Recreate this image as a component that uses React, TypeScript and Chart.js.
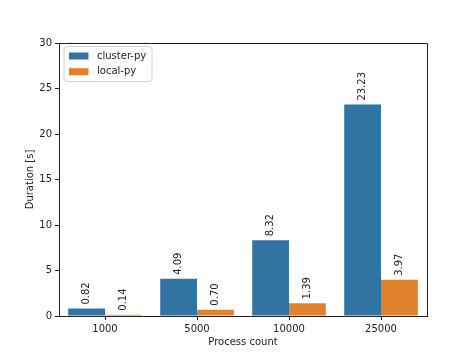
import React, { useEffect, useRef } from "react";
import { Chart, registerables } from "chart.js";

Chart.register(...registerables);

const categories = ["1000", "5000", "10000", "25000"];
const clusterPy = [0.82, 4.09, 8.32, 23.23];
const localPy = [0.14, 0.7, 1.39, 3.97];
const seriesNames = ["cluster-py", "local-py"];
const seriesColors = ["#3274a1", "#e1812c"];
const yTicks = [0, 5, 10, 15, 20, 25, 30];
const xTitle = "Process count";
const yTitle = "Duration [s]";

const FONT = "DejaVu Sans";

const extras = {
  id: "extras",
  afterDatasetsDraw(chart: any) {
    const ctx = chart.ctx;
    const ca = chart.chartArea;
    // value labels
    ctx.save();
    ctx.font = `10px "${FONT}"`;
    ctx.fillStyle = "#222";
    chart.data.datasets.forEach((ds: any, di: number) => {
      const meta = chart.getDatasetMeta(di);
      meta.data.forEach((el: any, i: number) => {
        const v = ds.data[i];
        ctx.save();
        ctx.translate(el.x, el.y - 4);
        ctx.rotate(-Math.PI / 2);
        ctx.textAlign = "left";
        ctx.textBaseline = "middle";
        ctx.fillText(Number(v).toFixed(2), 0, 0);
        ctx.restore();
      });
    });
    ctx.restore();
    // top/right spines
    ctx.save();
    ctx.strokeStyle = "#222";
    ctx.lineWidth = 1;
    ctx.beginPath();
    ctx.moveTo(ca.left, ca.top + 0.5);
    ctx.lineTo(ca.right + 0.5, ca.top + 0.5);
    ctx.lineTo(ca.right + 0.5, ca.bottom);
    ctx.stroke();
    ctx.restore();
    // axis titles
    ctx.save();
    ctx.font = `10px "${FONT}"`;
    ctx.fillStyle = "#222";
    ctx.textAlign = "center";
    ctx.textBaseline = "middle";
    ctx.fillText(xTitle, (ca.left + ca.right) / 2, ca.bottom + 26);
    ctx.translate(ca.left - 29, (ca.top + ca.bottom) / 2);
    ctx.rotate(-Math.PI / 2);
    ctx.fillText(yTitle, 0, 0);
    ctx.restore();
    // legend
    ctx.save();
    const lx = ca.left + 5, ly = ca.top + 3.5, lw = 88, lh = 35, r = 3;
    ctx.fillStyle = "rgba(255,255,255,0.8)";
    ctx.strokeStyle = "#d0d0d0";
    ctx.lineWidth = 1;
    ctx.beginPath();
    ctx.moveTo(lx + r, ly);
    ctx.lineTo(lx + lw - r, ly);
    ctx.arcTo(lx + lw, ly, lx + lw, ly + r, r);
    ctx.lineTo(lx + lw, ly + lh - r);
    ctx.arcTo(lx + lw, ly + lh, lx + lw - r, ly + lh, r);
    ctx.lineTo(lx + r, ly + lh);
    ctx.arcTo(lx, ly + lh, lx, ly + lh - r, r);
    ctx.lineTo(lx, ly + r);
    ctx.arcTo(lx, ly, lx + r, ly, r);
    ctx.closePath();
    ctx.fill();
    ctx.stroke();
    ctx.font = `10px "${FONT}"`;
    ctx.textAlign = "left";
    ctx.textBaseline = "middle";
    seriesNames.forEach((name, i) => {
      const cy = ly + 9.5 + i * 15.7;
      ctx.fillStyle = seriesColors[i];
      ctx.fillRect(lx + 5, cy - 3.5, 19.5, 7);
      ctx.fillStyle = "#222";
      ctx.fillText(name, lx + 33, cy);
    });
    ctx.restore();
  },
};

export default function App() {
  const ref = useRef<HTMLCanvasElement>(null);
  useEffect(() => {
    if (!ref.current) return;
    const chart = new Chart(ref.current, {
      type: "bar",
      data: {
        labels: categories,
        datasets: [
          {
            label: seriesNames[0],
            data: clusterPy,
            backgroundColor: seriesColors[0],
            categoryPercentage: 0.8,
            barPercentage: 1.0,
          },
          {
            label: seriesNames[1],
            data: localPy,
            backgroundColor: seriesColors[1],
            categoryPercentage: 0.8,
            barPercentage: 1.0,
          },
        ],
      },
      options: {
        responsive: false,
        animation: false,
        layout: { padding: { left: 0, right: 47, top: 43, bottom: 0 } },
        plugins: {
          legend: { display: false },
          tooltip: { enabled: false },
        },
        scales: {
          x: {
            offset: true,
            grid: {
              display: true,
              drawOnChartArea: false,
              drawTicks: true,
              tickLength: 4,
              color: "#222",
              offset: false,
            },
            border: { display: true, color: "#222", width: 1 },
            ticks: {
              color: "#222",
              font: { family: FONT, size: 10 },
              padding: 3,
              maxRotation: 0,
            },
            afterFit(scale: any) {
              scale.height = 39;
            },
          },
          y: {
            min: 0,
            max: 30,
            afterBuildTicks(scale: any) {
              scale.ticks = yTicks.map((v) => ({ value: v }));
            },
            grid: {
              display: true,
              drawOnChartArea: false,
              drawTicks: true,
              tickLength: 4,
              color: "#222",
            },
            border: { display: true, color: "#222", width: 1 },
            ticks: {
              color: "#222",
              font: { family: FONT, size: 10 },
              padding: 3,
            },
            afterFit(scale: any) {
              scale.width = 59;
            },
          },
        },
      },
      plugins: [extras],
    });
    return () => chart.destroy();
  }, []);
  return (
    <div style={{ position: "absolute", left: 0, top: 0, width: 474, height: 355, background: "#fff" }}>
      <canvas ref={ref} width={474} height={355} style={{ display: "block" }} />
    </div>
  );
}
